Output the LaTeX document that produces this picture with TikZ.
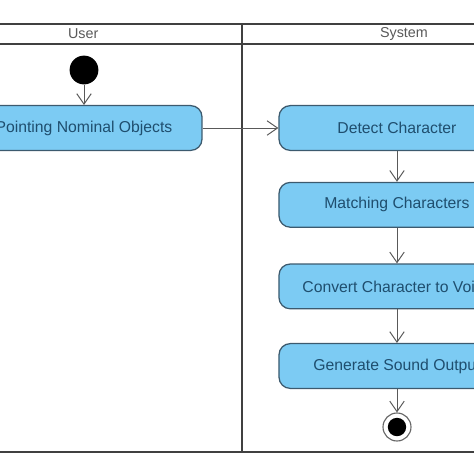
\documentclass[tikz,border=0pt]{standalone}
\usepackage{fontspec}
\setmainfont{Liberation Sans}
\usepackage{tikz}
\usetikzlibrary{positioning,arrows.meta}
\definecolor{actfill}{HTML}{7CCBF3}
\definecolor{actline}{HTML}{3C5A6E}
\definecolor{acttext}{HTML}{1F4E6E}

\begin{document}
\begin{tikzpicture}[
  every node/.style={font=\small},
  action/.style={draw=actline,fill=actfill,rounded corners=8pt,line width=0.9pt,
    text=acttext,minimum width=5.9cm,minimum height=1.12cm,font=\fontsize{11.2}{13}\selectfont},
  lane/.style={black!75,line width=1.2pt},
  flow/.style={-{Straight Barb[length=2.6mm,width=3.6mm]},black!65,line width=0.7pt}
]
  \clip (0,0) rectangle (11.85,-11.85);
  % swimlane frame
  \draw[lane] (-0.2,-0.6) -- (12,-0.6);
  \draw[lane] (-0.2,-1.1) -- (12,-1.1);
  \draw[lane] (-0.2,-11.3) -- (12,-11.3);
  \draw[lane] (6.05,-0.6) -- (6.05,-11.3);
  \node[text=black!65,font=\fontsize{10.2}{12}\selectfont] (user) at (2.08,-0.85) {User};
  \node[text=black!65,font=\fontsize{10.2}{12}\selectfont] (system) at (10.1,-0.85) {System};

  \node[circle,fill=black,minimum size=0.72cm,inner sep=0pt] (start) at (2.1,-1.75) {};
  \node[action] (point) at (2.1,-3.2) {Pointing Nominal Objects};
  \node[action] (detect) at (9.925,-3.2) {Detect Character};
  \node[action] (match) at (9.925,-5.12) {Matching Characters};
  \node[action] (convert) at (9.925,-7.16) {Convert Character to Voice};
  \node[action] (sound) at (9.925,-9.15) {Generate Sound Output};
  \node[circle,draw=black!60,line width=0.8pt,minimum size=0.7cm,inner sep=0pt] (stop) at (9.925,-10.675) {};
  \node[circle,fill=black,minimum size=0.46cm,inner sep=0pt] (stopdot) at (stop) {};

  \draw[flow] (start) -- (point);
  \draw[flow] (point) -- (detect);
  \draw[flow] (detect) -- (match);
  \draw[flow] (match) -- (convert);
  \draw[flow] (convert) -- (sound);
  \draw[flow] (sound) -- (stop);
\end{tikzpicture}
\end{document}
